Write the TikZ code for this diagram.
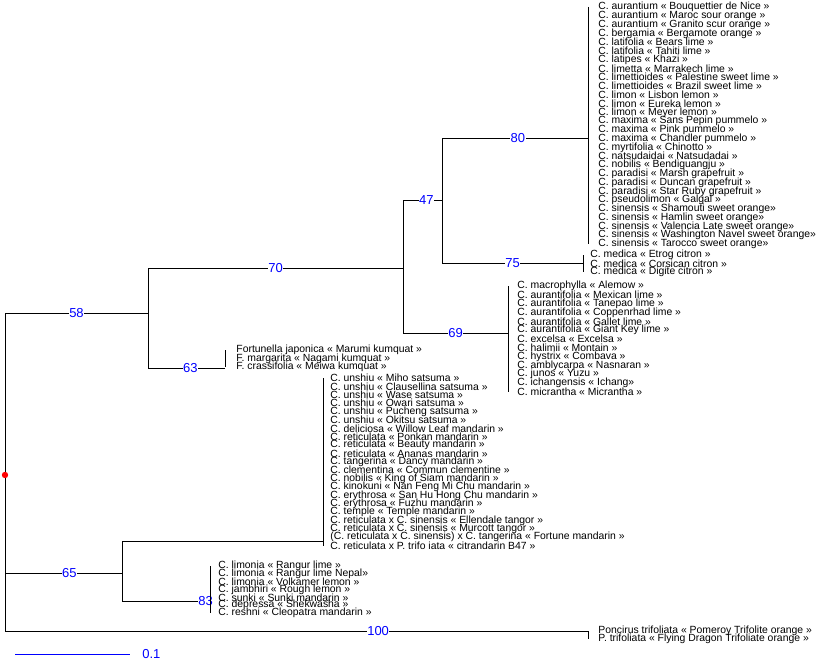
\documentclass[tikz,border=0pt]{standalone}
\usepackage{fontspec}
\setmainfont{Liberation Sans}
\begin{document}
\begin{tikzpicture}[x=1pt,y=-1pt,line width=0.8pt,
  leaf/.style={anchor=west,inner sep=0,font=\fontsize{10.4}{10}\selectfont},
  bs/.style={text=blue,font=\fontsize{13}{13}\selectfont,fill=white,inner sep=0.5pt}]
\useasboundingbox (0,0) rectangle (822,661);
\newcommand\leafgroup[5]{%
  \foreach \t [count=\i from 0] in {#5} {
    \node[leaf] at (#2,{#3+\i*#4}) {\t};
    \xdef\lastleafy{\fpeval{#3+\i*#4}}
  }
  \draw (#1,#3) -- (#1,\lastleafy);
}
\coordinate (root) at (5,475);
\coordinate (n58) at (148,313);
\coordinate (n70) at (403,268);
\coordinate (n47) at (442,200);
\coordinate (n80) at (588,138);
\coordinate (n75) at (583,263);
\coordinate (n69) at (508,333);
\coordinate (n63) at (225,368);
\coordinate (n65) at (122,573);
\coordinate (nm) at (323,541);
\coordinate (n83) at (210,601);
\coordinate (n100) at (588,631);
% tree
\draw (5,313) -- (5,631);
\draw (5,313) -- node[bs]{58} (n58);
\draw (148,268) -- (148,368);
\draw (148,268) -- node[bs,pos=0.5]{70} (n70);
\draw (148,368) -- node[bs,pos=0.55]{63} (n63);
\draw (403,200) -- (403,333);
\draw (403,200) -- node[bs,pos=0.6]{47} (n47);
\draw (403,333) -- node[bs,pos=0.5]{69} (n69);
\draw (442,138) -- (442,263);
\draw (442,138) -- node[bs,pos=0.52]{80} (n80);
\draw (442,263) -- node[bs,pos=0.5]{75} (n75);
\draw (5,573) -- node[bs,pos=0.55]{65} (n65);
\draw (122,541) -- (122,601);
\draw (122,541) -- (nm);
\draw (122,601) -- node[bs,pos=0.95]{83} (n83);
\draw (5,631) -- node[bs,pos=0.64]{100} (n100);
\fill[red] (root) circle (3.2);
% leaves
\leafgroup{588}{598}{7}{8.78}{C. aurantium « Bouquettier de Nice »,C. aurantium « Maroc sour orange »,C. aurantium « Granito scur orange »,C. bergamia «  Bergamote orange »,C. latifolia « Bears lime »,C. latifolia « Tahiti lime »,C. latipes «  Khazi »,C. limetta « Marrakech lime »,C. limettioides « Palestine sweet lime »,C. limettioides « Brazil sweet lime »,C. limon « Lisbon lemon »,C. limon « Eureka lemon »,C. limon « Meyer lemon »,C. maxima « Sans Pepin pummelo »,C. maxima « Pink pummelo »,C. maxima « Chandler pummelo »,C. myrtifolia « Chinotto »,C. natsudaidai « Natsudadai »,C. nobilis «  Bendiguangju »,C. paradisi « Marsh grapefruit »,C. paradisi « Duncan grapefruit »,C. paradisi « Star Ruby grapefruit »,C. pseudolimon « Galgal »,C. sinensis « Shamouti sweet orange»,C. sinensis « Hamlin sweet orange»,C. sinensis « Valencia Late sweet orange»,C. sinensis « Washington Navel sweet orange»,C. sinensis « Tarocco sweet orange»}
\leafgroup{583}{590}{255}{8.5}{C. medica « Etrog citron »,C. medica « Corsican citron »,C. medica « Digite citron »}
\leafgroup{508}{517}{286}{8.83}{C.  macrophylla « Alemow »,C. aurantifolia « Mexican lime »,C. aurantifolia « Tanepao lime »,C. aurantifolia « Coppenrhad lime »,C. aurantifolia « Gallet lime »,C. aurantifolia « Giant Key lime »,C. excelsa « Excelsa »,C. halimii « Montain »,C. hystrix « Combava »,C. amblycarpa « Nasnaran »,C. junos « Yuzu »,C. ichangensis « Ichang»,C. micrantha « Micrantha »}
\leafgroup{225}{236}{350}{8.5}{Fortunella japonica « Marumi kumquat »,F. margarita « Nagami kumquat »,F. crassifolia « Meiwa kumquat »}
\leafgroup{323}{330}{378}{8.38}{C. unshiu «  Miho satsuma »,C. unshiu « Clausellina satsuma »,C. unshiu «  Wase satsuma »,C. unshiu « Owari satsuma »,C. unshiu « Pucheng satsuma »,C. unshiu « Okitsu satsuma »,C. deliciosa « Willow Leaf mandarin »,C. reticulata « Ponkan mandarin »,C. reticulata « Beauty mandarin »,C. reticulata « Ananas mandarin »,C. tangerina « Dancy mandarin »,C. clementina « Commun clementine »,C. nobilis « King of Siam mandarin »,C. kinokuni « Nan Feng Mi Chu mandarin »,C. erythrosa « San Hu Hong Chu mandarin »,C. erythrosa « Fuzhu mandarin »,C. temple « Temple mandarin »,C. reticulata x C. sinensis « Ellendale tangor »,C. reticulata x C. sinensis « Murcott tangor »,{(C. reticulata x C. sinensis) x C. tangerina « Fortune mandarin »},C. reticulata x P. trifo iata «  citrandarin B47 »}
\leafgroup{210}{218}{566}{7.86}{C. limonia « Rangur lime »,C. limonia « Rangur lime Nepal»,C. limonia « Volkamer lemon »,C. jambhiri « Rough lemon »,C. sunki « Sunki mandarin »,C. depressa « Shekwasha »,C. reshni « Cleopatra mandarin »}
\leafgroup{588}{598}{631}{7.5}{Poncirus trifoliata « Pomeroy Trifolite orange »,P. trifoliata « Flying Dragon Trifoliate orange »}
% scale bar
\coordinate (sb1) at (15,654);
\coordinate (sb2) at (130,654);
\draw[blue] (sb1) -- (sb2);
\node[text=blue,font=\fontsize{13}{13}\selectfont,anchor=west,inner sep=0] (sbl) at (142,654) {0.1};
\end{tikzpicture}
\end{document}
